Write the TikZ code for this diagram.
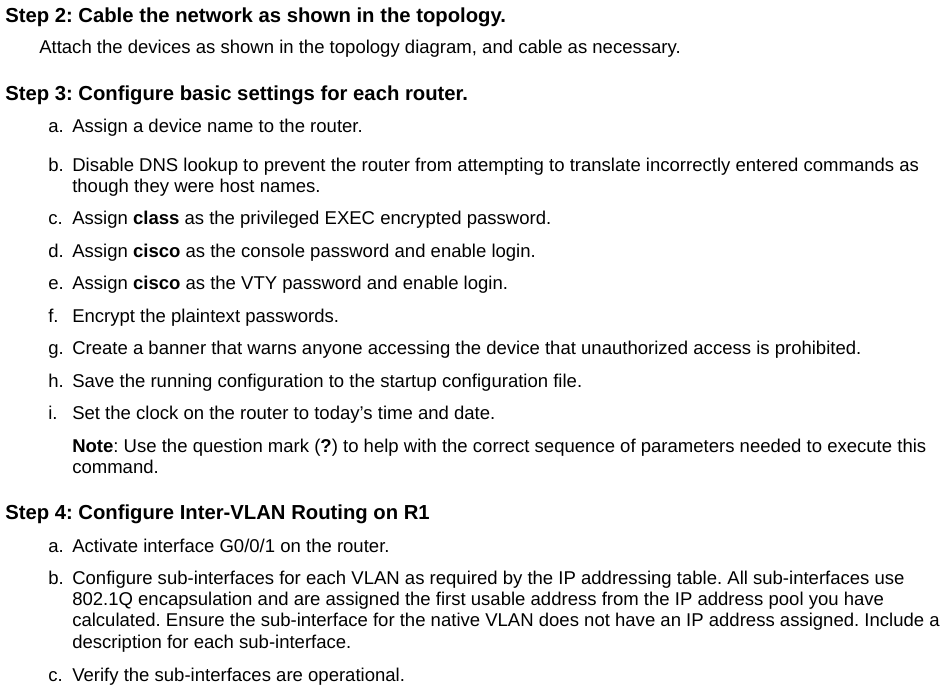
\documentclass[tikz,border=0pt]{standalone}
\usepackage{fontspec}
\setmainfont{Liberation Sans}
\frenchspacing
\begin{document}
\begin{tikzpicture}[x=0.75pt,y=-0.75pt,
  body/.style={anchor=base west,inner sep=0pt,font=\fontsize{13.9pt}{16pt}\selectfont},
  head/.style={anchor=base west,inner sep=0pt,font=\fontsize{15.2pt}{18pt}\selectfont\bfseries}]
\useasboundingbox (0,0) rectangle (944,690);
\node[head] (s2) at (5,22) {Step 2: Cable the network as shown in the topology.};
\node[body] (s2a) at (39,53) {Attach the devices as shown in the topology diagram, and cable as necessary.};
\node[head] (s3) at (5,100) {Step 3: Configure basic settings for each router.};
\foreach \l/\y [count=\i] in {a./132,b./171,c./224,d./257,e./289,f./322,g./354,h./387,i./419}
  \node[body] (l3\i) at (48,\y) {\l};
\node[body] (t3a) at (72,132) {Assign a device name to the router.};
\node[body] (t3b1) at (72,171) {Disable DNS lookup to prevent the router from attempting to translate incorrectly entered commands as};
\node[body] (t3b2) at (72,192) {though they were host names.};
\node[body] (t3c) at (72,224) {Assign \textbf{class} as the privileged EXEC encrypted password.};
\node[body] (t3d) at (72,257) {Assign \textbf{cisco} as the console password and enable login.};
\node[body] (t3e) at (72,289) {Assign \textbf{cisco} as the VTY password and enable login.};
\node[body] (t3f) at (72,322) {Encrypt the plaintext passwords.};
\node[body] (t3g) at (72,354) {Create a banner that warns anyone accessing the device that unauthorized access is prohibited.};
\node[body] (t3h) at (72,387) {Save the running configuration to the startup configuration file.};
\node[body] (t3i) at (72,419) {Set the clock on the router to today’s time and date.};
\node[body] (n1) at (72,452) {\textbf{Note}: Use the question mark (\textbf{?}) to help with the correct sequence of parameters needed to execute this};
\node[body] (n2) at (72,473) {command.};
\node[head] (s4) at (5,519) {Step 4: Configure Inter-VLAN Routing on R1};
\foreach \l/\y [count=\i] in {a./552,b./584,c./681}
  \node[body] (l4\i) at (48,\y) {\l};
\node[body] (t4a) at (72,552) {Activate interface G0/0/1 on the router.};
\node[body] (t4b1) at (72,584) {Configure sub-interfaces for each VLAN as required by the IP addressing table. All sub-interfaces use};
\node[body] (t4b2) at (72,605) {802.1Q encapsulation and are assigned the first usable address from the IP address pool you have};
\node[body] (t4b3) at (72,626) {calculated. Ensure the sub-interface for the native VLAN does not have an IP address assigned. Include a};
\node[body] (t4b4) at (72,648) {description for each sub-interface.};
\node[body] (t4c) at (72,681) {Verify the sub-interfaces are operational.};
\end{tikzpicture}
\end{document}
